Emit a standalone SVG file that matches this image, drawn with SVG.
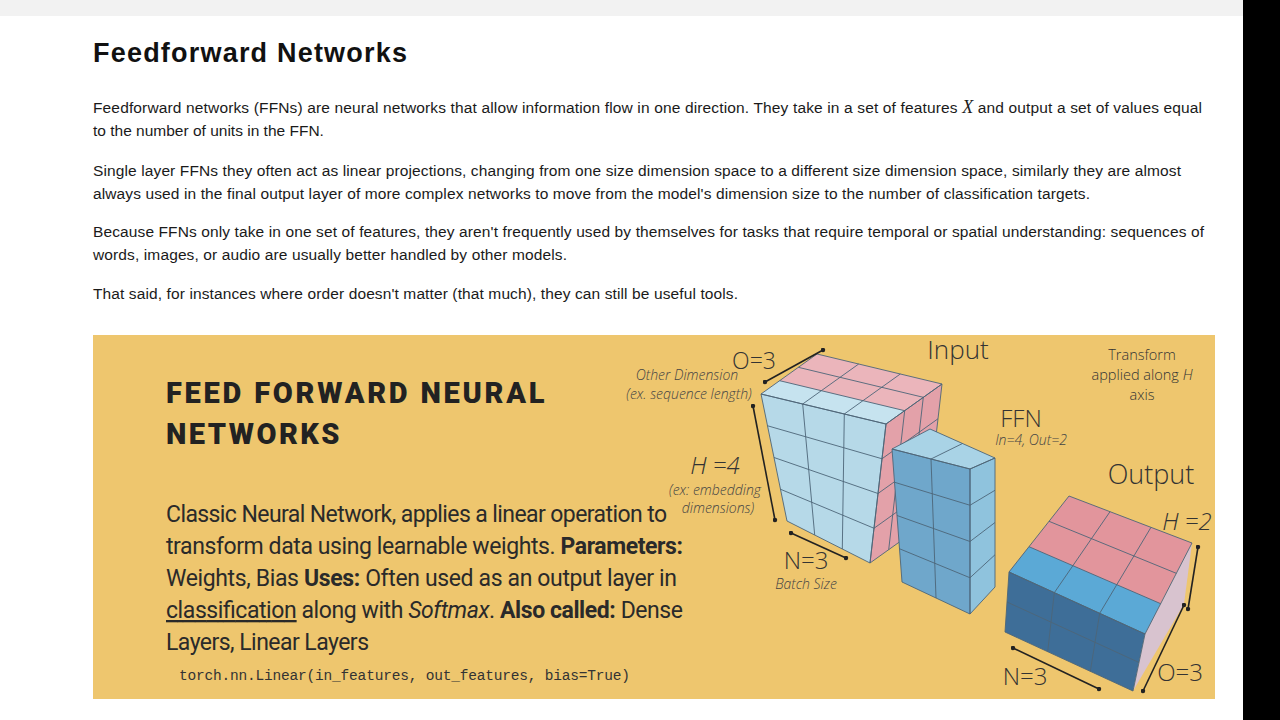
<svg xmlns="http://www.w3.org/2000/svg" width="1280" height="720" viewBox="0 0 1280 720">
<defs>
<style>
.p{font-family:"Liberation Sans",Arial,sans-serif;font-size:15.5px;fill:#1a1a1a}
.h{font-family:"Roboto","Liberation Sans",sans-serif;font-weight:900;font-size:29px;letter-spacing:2.5px;fill:#222}
.b{font-family:"Roboto","Liberation Sans",sans-serif;font-size:23px;fill:#2a2a2a}
.c{font-family:"Liberation Mono",monospace;font-size:14.5px;fill:#333}
.l{font-family:"Open Sans","Liberation Sans",sans-serif;fill:#333;font-weight:300}
.i{font-family:"Open Sans","Liberation Sans",sans-serif;font-style:italic;fill:#444;font-size:14px;font-weight:300}
.g{stroke:#4d6578;stroke-width:0.9;fill:none}
.a{stroke:#222;stroke-width:1.6;fill:none;marker-start:url(#d);marker-end:url(#d)}
</style>
<marker id="d" markerWidth="5" markerHeight="5" refX="2.5" refY="2.5" markerUnits="userSpaceOnUse"><circle cx="2.5" cy="2.5" r="2.2" fill="#222"/></marker>
</defs>
<rect width="1280" height="720" fill="#fff"/>
<rect width="1280" height="16" fill="#f2f2f2"/>
<rect x="1243" width="37" height="720" fill="#000"/>
<text x="93" y="62" font-family="Liberation Sans,Arial,sans-serif" font-weight="bold" font-size="27" fill="#111" textLength="314">Feedforward Networks</text>
<text class="p" x="93" y="113" textLength="1109">Feedforward networks (FFNs) are neural networks that allow information flow in one direction. They take in a set of features <tspan font-family="Liberation Serif,serif" font-style="italic" font-size="18">X</tspan> and output a set of values equal</text>
<text class="p" x="93" y="136">to the number of units in the FFN.</text>
<text class="p" x="93" y="176" textLength="1088">Single layer FFNs they often act as linear projections, changing from one size dimension space to a different size dimension space, similarly they are almost</text>
<text class="p" x="93" y="199" textLength="997">always used in the final output layer of more complex networks to move from the model's dimension size to the number of classification targets.</text>
<text class="p" x="93" y="237" textLength="1111">Because FFNs only take in one set of features, they aren't frequently used by themselves for tasks that require temporal or spatial understanding: sequences of</text>
<text class="p" x="93" y="260" textLength="474">words, images, or audio are usually better handled by other models.</text>
<text class="p" x="93" y="299" textLength="645">That said, for instances where order doesn't matter (that much), they can still be useful tools.</text>
<rect x="93" y="335" width="1122" height="364" fill="#EEC66E"/>
<g id="title">
<text class="h" x="166" y="403" textLength="381">FEED FORWARD NEURAL</text>
<text class="h" x="166" y="444" textLength="176">NETWORKS</text>
</g>
<g id="desc">
<text class="b" x="166" y="522" textLength="501">Classic Neural Network, applies a linear operation to</text>
<text class="b" x="166" y="554" textLength="517">transform data using learnable weights. <tspan font-weight="bold">Parameters:</tspan></text>
<text class="b" x="166" y="586" textLength="511">Weights, Bias  <tspan font-weight="bold">Uses:</tspan> Often used as an output layer in</text>
<text class="b" x="166" y="618" textLength="517"><tspan text-decoration="underline">classification</tspan> along with <tspan font-style="italic">Softmax</tspan>. <tspan font-weight="bold">Also called:</tspan> Dense</text>
<text class="b" x="166" y="650" textLength="203">Layers, Linear Layers</text>
<text class="c" x="179" y="680" textLength="451">torch.nn.Linear(in_features, out_features, bias=True)</text>
</g>
<g id="input">
<polygon points="761,394 886,424 870,563 787,521" fill="#B6D9E8"/>
<polygon points="761,394 817,354 942,384 886,424" fill="#EBB5BB"/>
<polygon points="761,394 779.7,380.7 904.7,410.7 886,424" fill="#C6E3EF"/>
<polygon points="886,424 942,384 926,523 870,563" fill="#E3A1A9"/>
<g class="g">
<polygon points="761,394 886,424 870,563 787,521"/>
<polygon points="761,394 817,354 942,384 886,424"/>
<polygon points="886,424 942,384 926,523 870,563"/>
<path d="M802.7,404L814.7,535M844.3,414L842.3,549M767.5,425.75L882,458.75M774,457.5L878,493.5M780.5,489.25L874,528.25M779.7,380.7L904.7,410.7M798.3,367.3L923.3,397.3M802.7,404L858.7,364M844.3,414L900.3,374M904.7,410.7L888.7,549.7M923.3,397.3L907.3,536.3M882,458.75L938,418.75M878,493.5L934,453.5M874,528.25L930,488.25"/>
</g>
</g>
<g id="ffn">
<polygon points="892,449 970,469 970,614 902,582" fill="#6FA7CB"/>
<polygon points="892,449 930,429 995,458 970,469" fill="#A9D3E6"/>
<polygon points="970,469 995,458 995,587 970,614" fill="#8FC3DD"/>
<g class="g">
<polygon points="892,449 970,469 970,614 902,582"/>
<polygon points="892,449 930,429 995,458 970,469"/>
<polygon points="970,469 995,458 995,587 970,614"/>
<path d="M931,459L962.5,443.5M931,459L936,598M894.5,482.25L970,505.25M897,515.5L970,541.5M899.5,548.75L970,577.75M970,505.25L995,490.25M970,541.5L995,522.5M970,577.75L995,554.75"/>
</g>
</g>
<g id="output">
<polygon points="1009,572 1069,496 1192,543 1145,634" fill="#E2959C"/>
<polygon points="1009,572 1029,546.7 1160.7,603.7 1145,634" fill="#5BA9D6"/>
<polygon points="1009,572 1145,634 1133,691 1005,632" fill="#3E6E98"/>
<polygon points="1145,634 1192,543 1184,604 1133,691" fill="#D8C3CF"/>
<g class="g" stroke="#2c3e50">
<polygon points="1009,572 1069,496 1192,543 1145,634"/>
<polygon points="1009,572 1145,634 1133,691 1005,632"/>
<path d="M1029,546.7L1160.7,603.7M1049,521.3L1176.3,573.3M1054.3,592.7L1110,511.7M1099.7,613.3L1151,527.3M1007,602L1139,662.5M1054.3,592.7L1047.7,651.7M1099.7,613.3L1090.3,671.3"/>
</g>
</g>
<g id="connectors">
<line class="a" x1="765" y1="382" x2="823" y2="350"/>
<line class="a" x1="753" y1="406" x2="775" y2="520"/>
<line class="a" x1="791" y1="533" x2="846" y2="558"/>
<line class="a" x1="1198" y1="547" x2="1188" y2="609"/>
<line class="a" x1="1184" y1="605" x2="1143" y2="691"/>
<line class="a" x1="1013" y1="648" x2="1099" y2="689"/>
</g>
<g id="labels">
<text class="l" x="754" y="369" font-size="23" text-anchor="middle">O=3</text>
<text class="i" x="687" y="380" text-anchor="middle">Other Dimension</text>
<text class="i" x="689" y="399" text-anchor="middle">(ex. sequence length)</text>
<text class="l" x="958" y="359" font-size="26" text-anchor="middle">Input</text>
<text class="l" x="1142" y="360" font-size="14.5" text-anchor="middle">Transform</text>
<text class="l" x="1142" y="380" font-size="14.5" text-anchor="middle">applied along <tspan font-style="italic">H</tspan></text>
<text class="l" x="1142" y="400" font-size="14.5" text-anchor="middle">axis</text>
<text class="l" x="1021" y="427" font-size="24" text-anchor="middle">FFN</text>
<text class="i" x="1031" y="445" font-size="17" text-anchor="middle">In=4, Out=2</text>
<text class="l" x="715" y="474" font-size="24" text-anchor="middle" font-style="italic">H =4</text>
<text class="i" x="715" y="495" text-anchor="middle">(ex: embedding</text>
<text class="i" x="718" y="513" text-anchor="middle">dimensions)</text>
<text class="l" x="806" y="569" font-size="24" text-anchor="middle">N=3</text>
<text class="i" x="806" y="589" font-size="15" text-anchor="middle">Batch Size</text>
<text class="l" x="1151" y="484" font-size="27" text-anchor="middle">Output</text>
<text class="l" x="1187" y="530" font-size="24" text-anchor="middle" font-style="italic">H =2</text>
<text class="l" x="1025" y="685" font-size="24" text-anchor="middle">N=3</text>
<text class="l" x="1180" y="681" font-size="24" text-anchor="middle">O=3</text>
</g>
</svg>
